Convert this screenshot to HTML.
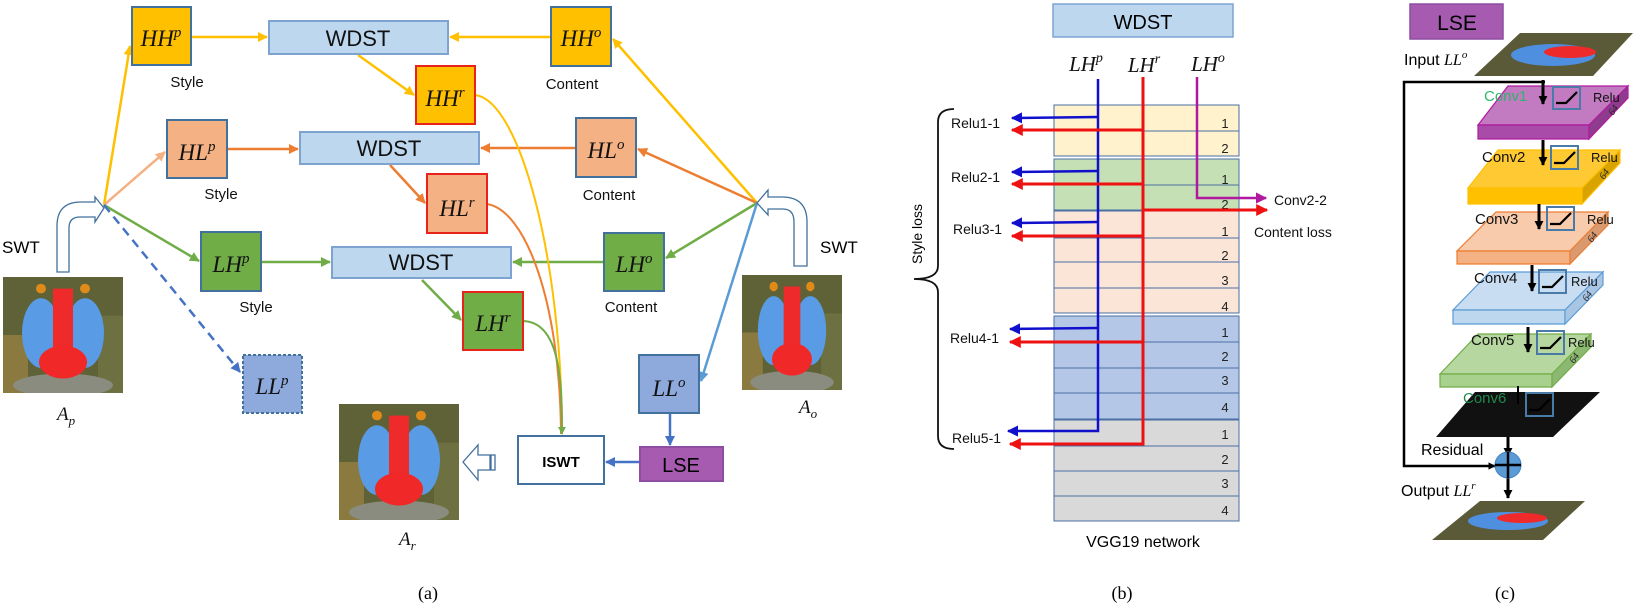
<!DOCTYPE html>
<html><head><meta charset="utf-8"><style>
body{margin:0;background:#fff}
svg{display:block;font-family:"Liberation Sans",sans-serif}
.m,.m tspan{font-family:"Liberation Serif",serif;font-style:italic}
</style></head><body>
<svg width="1638" height="606" viewBox="0 0 1638 606" xmlns="http://www.w3.org/2000/svg">
<defs>
<marker id="aY" viewBox="0 0 10 10" refX="9" refY="5" markerWidth="4" markerHeight="4" orient="auto"><path d="M0,0L10,5L0,10z" fill="#FFC000"/></marker>
<marker id="aO" viewBox="0 0 10 10" refX="9" refY="5" markerWidth="4" markerHeight="4" orient="auto"><path d="M0,0L10,5L0,10z" fill="#ED7D31"/></marker>
<marker id="aLO" viewBox="0 0 10 10" refX="9" refY="5" markerWidth="4" markerHeight="4" orient="auto"><path d="M0,0L10,5L0,10z" fill="#F4B183"/></marker>
<marker id="aG" viewBox="0 0 10 10" refX="9" refY="5" markerWidth="4" markerHeight="4" orient="auto"><path d="M0,0L10,5L0,10z" fill="#70AD47"/></marker>
<marker id="aB" viewBox="0 0 10 10" refX="9" refY="5" markerWidth="4" markerHeight="4" orient="auto"><path d="M0,0L10,5L0,10z" fill="#5B9BD5"/></marker>
<marker id="aDB" viewBox="0 0 10 10" refX="9" refY="5" markerWidth="4" markerHeight="4" orient="auto"><path d="M0,0L10,5L0,10z" fill="#4472C4"/></marker>
<marker id="aBl" viewBox="0 0 10 10" refX="9" refY="5" markerWidth="4.5" markerHeight="4.5" orient="auto"><path d="M0,0L10,5L0,10z" fill="#1010CC"/></marker>
<marker id="aR" viewBox="0 0 10 10" refX="9" refY="5" markerWidth="4" markerHeight="4" orient="auto"><path d="M0,0L10,5L0,10z" fill="#EE1111"/></marker>
<marker id="aM" viewBox="0 0 10 10" refX="9" refY="5" markerWidth="4.5" markerHeight="4.5" orient="auto"><path d="M0,0L10,5L0,10z" fill="#B0199F"/></marker>
<marker id="aK" viewBox="0 0 10 10" refX="9" refY="5" markerWidth="3" markerHeight="3" orient="auto"><path d="M0,0L10,5L0,10z" fill="#000"/></marker>
<symbol id="bab" viewBox="0 0 120 120" preserveAspectRatio="none">
<rect width="120" height="120" fill="#5f6236"/>
<rect x="0" y="60" width="25" height="60" fill="#8a7a40"/>
<rect x="95" y="40" width="25" height="80" fill="#6d7040"/>
<ellipse cx="60" cy="112" rx="50" ry="12" fill="#8a8c80"/>
<ellipse cx="38" cy="58" rx="19" ry="36" fill="#5a9be6"/>
<ellipse cx="82" cy="58" rx="19" ry="36" fill="#5a9be6"/>
<rect x="50" y="12" width="20" height="70" fill="#ee2a2a"/>
<ellipse cx="60" cy="88" rx="24" ry="17" fill="#f02828"/>
<circle cx="38" cy="12" r="5" fill="#e08a1a"/><circle cx="82" cy="12" r="5" fill="#e08a1a"/>
</symbol>
</defs>

<!-- ===== Panel (a) ===== -->
<line x1="104" y1="205" x2="130" y2="46" stroke="#FFC000" stroke-width="2.5" marker-end="url(#aY)"/>
<line x1="104" y1="205" x2="165" y2="152" stroke="#F4B183" stroke-width="2.5" marker-end="url(#aLO)"/>
<line x1="104" y1="205" x2="199" y2="261" stroke="#70AD47" stroke-width="2.5" marker-end="url(#aG)"/>
<line x1="104" y1="205" x2="240" y2="372" stroke="#4472C4" stroke-width="2.5" stroke-dasharray="9,6" marker-end="url(#aDB)"/>
<line x1="757" y1="203" x2="613" y2="39" stroke="#FFC000" stroke-width="2.5" marker-end="url(#aY)"/>
<line x1="757" y1="203" x2="638" y2="149" stroke="#ED7D31" stroke-width="2.5" marker-end="url(#aO)"/>
<line x1="757" y1="203" x2="666" y2="258" stroke="#70AD47" stroke-width="2.5" marker-end="url(#aG)"/>
<line x1="757" y1="203" x2="701" y2="381" stroke="#5B9BD5" stroke-width="2.5" marker-end="url(#aB)"/>
<line x1="191" y1="37" x2="267" y2="37" stroke="#FFC000" stroke-width="2.5" marker-end="url(#aY)"/>
<line x1="551" y1="37" x2="450" y2="37" stroke="#FFC000" stroke-width="2.5" marker-end="url(#aY)"/>
<line x1="227" y1="149" x2="298" y2="149" stroke="#ED7D31" stroke-width="2.5" marker-end="url(#aO)"/>
<line x1="576" y1="148" x2="481" y2="148" stroke="#ED7D31" stroke-width="2.5" marker-end="url(#aO)"/>
<line x1="261" y1="262" x2="330" y2="262" stroke="#70AD47" stroke-width="2.5" marker-end="url(#aG)"/>
<line x1="604" y1="262" x2="513" y2="262" stroke="#70AD47" stroke-width="2.5" marker-end="url(#aG)"/>
<line x1="358" y1="55" x2="414" y2="95" stroke="#FFC000" stroke-width="2.5" marker-end="url(#aY)"/>
<line x1="390" y1="165" x2="425" y2="203" stroke="#ED7D31" stroke-width="2.5" marker-end="url(#aO)"/>
<line x1="422" y1="280" x2="461" y2="320" stroke="#70AD47" stroke-width="2.5" marker-end="url(#aG)"/>
<path d="M475,95 C520,100 562,260 562,434" fill="none" stroke="#FFC000" stroke-width="2"/>
<path d="M487,204 C525,210 560,300 561,434" fill="none" stroke="#ED7D31" stroke-width="2"/>
<path d="M523,321 C560,322 562,380 562,434" fill="none" stroke="#70AD47" stroke-width="2" marker-end="url(#aG)"/>
<line x1="670" y1="413" x2="670" y2="445" stroke="#4472C4" stroke-width="2.5" marker-end="url(#aDB)"/>
<line x1="640" y1="462" x2="606" y2="462" stroke="#4472C4" stroke-width="2.5" marker-end="url(#aDB)"/>

<g stroke="#41719C" stroke-width="2">
<rect x="269" y="21" width="179" height="33" fill="#BDD7EE" stroke="#7FA3D0"/>
<rect x="300" y="132" width="179" height="32" fill="#BDD7EE" stroke="#7FA3D0"/>
<rect x="332" y="247" width="179" height="31" fill="#BDD7EE" stroke="#7FA3D0"/>
<rect x="132" y="7" width="59" height="58" fill="#FFC000"/>
<rect x="551" y="7" width="60" height="59" fill="#FFC000"/>
<rect x="167" y="120" width="60" height="58" fill="#F4B183"/>
<rect x="576" y="118" width="60" height="59" fill="#F4B183"/>
<rect x="201" y="232" width="60" height="59" fill="#70AD47"/>
<rect x="604" y="233" width="60" height="58" fill="#70AD47"/>
<rect x="416" y="66" width="59" height="58" fill="#FFC000" stroke="#E8231C"/>
<rect x="427" y="174" width="60" height="59" fill="#F4B183" stroke="#E8231C"/>
<rect x="463" y="292" width="60" height="58" fill="#70AD47" stroke="#E8231C"/>
<rect x="243" y="355" width="59" height="58" fill="#8EA9DB" stroke-dasharray="3,2"/>
<rect x="639" y="355" width="60" height="58" fill="#8EA9DB"/>
<rect x="518" y="436" width="86" height="48" fill="#fff" stroke="#41719C"/>
<rect x="640" y="447" width="83" height="34" fill="#A65BB0" stroke="#8E4DA0"/>
</g>
<g font-size="22" text-anchor="middle" fill="#111">
<text x="358" y="46">WDST</text>
<text x="389" y="156">WDST</text>
<text x="421" y="270">WDST</text>
</g>
<text x="561" y="467" font-size="15" font-weight="bold" text-anchor="middle">ISWT</text>
<text x="681" y="472" font-size="20" text-anchor="middle">LSE</text>
<g class="m" font-size="23" text-anchor="middle" fill="#111">
<text x="161" y="46">HH<tspan font-size="15" dy="-9">p</tspan></text>
<text x="581" y="46">HH<tspan font-size="15" dy="-9">o</tspan></text>
<text x="197" y="160">HL<tspan font-size="15" dy="-9">p</tspan></text>
<text x="606" y="158">HL<tspan font-size="15" dy="-9">o</tspan></text>
<text x="231" y="272">LH<tspan font-size="15" dy="-9">p</tspan></text>
<text x="634" y="272">LH<tspan font-size="15" dy="-9">o</tspan></text>
<text x="445" y="106">HH<tspan font-size="15" dy="-9">r</tspan></text>
<text x="457" y="216">HL<tspan font-size="15" dy="-9">r</tspan></text>
<text x="493" y="331">LH<tspan font-size="15" dy="-9">r</tspan></text>
<text x="272" y="394">LL<tspan font-size="15" dy="-9">p</tspan></text>
<text x="669" y="396">LL<tspan font-size="15" dy="-9">o</tspan></text>
</g>
<g font-size="15" text-anchor="middle" fill="#111">
<text x="187" y="87">Style</text><text x="572" y="89">Content</text>
<text x="221" y="199">Style</text><text x="609" y="200">Content</text>
<text x="256" y="312">Style</text><text x="631" y="312">Content</text>
</g>
<text x="2" y="253" font-size="17">SWT</text>
<text x="820" y="253" font-size="17">SWT</text>
<path d="M57,272 L57,226 Q57,202 81,202 L95,202 L95,197 L104,208 L95,222 L95,217 L80,217 Q69,217 69,228 L69,272 Z" fill="#fff" stroke="#41719C" stroke-width="1.3"/>
<path d="M807,266 L807,222 Q807,197 782,197 L768,197 L768,190 L757,203 L768,215 L768,209 L783,209 Q794,209 794,222 L794,266 Z" fill="#fff" stroke="#41719C" stroke-width="1.3"/>
<path d="M490,455 L478,455 L478,445 L463,462 L478,480 L478,470 L490,470 Z" fill="#fff" stroke="#41719C" stroke-width="1.3"/>
<rect x="491" y="455" width="4" height="15" fill="#fff" stroke="#41719C" stroke-width="1.3"/>
<use href="#bab" x="3" y="277" width="120" height="116"/>
<use href="#bab" x="742" y="275" width="100" height="115"/>
<use href="#bab" x="339" y="404" width="120" height="116"/>
<g class="m" font-size="19" fill="#111">
<text x="57" y="420">A<tspan font-size="13" dy="5">p</tspan></text>
<text x="799" y="413">A<tspan font-size="13" dy="5">o</tspan></text>
<text x="399" y="545">A<tspan font-size="13" dy="5">r</tspan></text>
</g>

<!-- ===== Panel (b) ===== -->
<rect x="1053" y="4" width="180" height="33" fill="#BDD7EE" stroke="#7FA3D0" stroke-width="1.5"/>
<text x="1143" y="29" font-size="20" text-anchor="middle">WDST</text>
<g class="m" font-size="21" fill="#111" text-anchor="middle">
<text x="1086" y="71">LH<tspan font-size="14" dy="-9">p</tspan></text>
<text x="1144" y="72">LH<tspan font-size="14" dy="-9">r</tspan></text>
<text x="1208" y="71">LH<tspan font-size="14" dy="-9">o</tspan></text>
</g>
<g stroke="#4A6FA5" stroke-width="1">
<rect x="1054" y="105" width="185" height="26" fill="#FFF2CC"/><rect x="1054" y="131" width="185" height="25" fill="#FFF2CC"/>
<rect x="1054" y="159" width="185" height="26" fill="#C5E0B4"/><rect x="1054" y="185" width="185" height="25" fill="#C5E0B4"/>
<rect x="1054" y="211" width="185" height="27" fill="#FBE5D6"/><rect x="1054" y="238" width="185" height="24" fill="#FBE5D6"/><rect x="1054" y="262" width="185" height="26" fill="#FBE5D6"/><rect x="1054" y="288" width="185" height="25" fill="#FBE5D6"/>
<rect x="1054" y="316" width="185" height="26" fill="#B4C7E7"/><rect x="1054" y="342" width="185" height="26" fill="#B4C7E7"/><rect x="1054" y="368" width="185" height="25" fill="#B4C7E7"/><rect x="1054" y="393" width="185" height="26" fill="#B4C7E7"/>
<rect x="1054" y="420" width="185" height="26" fill="#D9D9D9"/><rect x="1054" y="446" width="185" height="25" fill="#D9D9D9"/><rect x="1054" y="471" width="185" height="25" fill="#D9D9D9"/><rect x="1054" y="496" width="185" height="25" fill="#D9D9D9"/>
</g>
<g font-size="13" fill="#222" text-anchor="middle">
<text x="1225" y="128">1</text><text x="1225" y="153">2</text>
<text x="1225" y="184">1</text><text x="1225" y="209">2</text>
<text x="1225" y="236">1</text><text x="1225" y="260">2</text><text x="1225" y="285">3</text><text x="1225" y="311">4</text>
<text x="1225" y="337">1</text><text x="1225" y="361">2</text><text x="1225" y="385">3</text><text x="1225" y="412">4</text>
<text x="1225" y="439">1</text><text x="1225" y="464">2</text><text x="1225" y="488">3</text><text x="1225" y="515">4</text>
</g>
<g stroke="#1010CC" stroke-width="2.5" fill="none">
<path d="M1098,79 L1098,431 L1008,431" marker-end="url(#aBl)"/>
<line x1="1098" y1="117" x2="1012" y2="118" marker-end="url(#aBl)"/>
<line x1="1098" y1="171" x2="1012" y2="172" marker-end="url(#aBl)"/>
<line x1="1098" y1="222" x2="1012" y2="223" marker-end="url(#aBl)"/>
<line x1="1098" y1="328" x2="1010" y2="329" marker-end="url(#aBl)"/>
</g>
<g stroke="#EE1111" stroke-width="3" fill="none">
<path d="M1143,77 L1143,444 L1010,444" marker-end="url(#aR)"/>
<line x1="1143" y1="130" x2="1012" y2="130" marker-end="url(#aR)"/>
<line x1="1143" y1="184" x2="1012" y2="184" marker-end="url(#aR)"/>
<line x1="1143" y1="236" x2="1012" y2="236" marker-end="url(#aR)"/>
<line x1="1143" y1="342" x2="1010" y2="342" marker-end="url(#aR)"/>
<line x1="1143" y1="210" x2="1267" y2="210" marker-end="url(#aR)"/>
</g>
<path d="M1197,77 L1197,198 L1266,198" fill="none" stroke="#B0199F" stroke-width="2.5" marker-end="url(#aM)"/>
<g font-size="14" fill="#111">
<text x="951" y="128">Relu1-1</text><text x="951" y="182">Relu2-1</text><text x="953" y="234">Relu3-1</text>
<text x="950" y="343">Relu4-1</text><text x="952" y="443">Relu5-1</text>
<text x="1274" y="205">Conv2-2</text><text x="1254" y="237">Content loss</text>
</g>
<path d="M954,109 Q938,109 938,122 L938,266 Q938,279 914,279 Q938,279 938,292 L938,436 Q938,449 954,449" fill="none" stroke="#111" stroke-width="1.8"/>
<text transform="translate(922,234) rotate(-90)" font-size="14" text-anchor="middle">Style loss</text>
<text x="1143" y="547" font-size="16" text-anchor="middle">VGG19 network</text>

<!-- ===== Panel (c) ===== -->
<rect x="1410" y="4" width="93" height="35" fill="#A65BB0" stroke="#8E4DA0" stroke-width="1.5"/>
<text x="1457" y="30" font-size="21" text-anchor="middle">LSE</text>
<text x="1404" y="65" font-size="16">Input <tspan class="m">LL</tspan><tspan class="m" font-size="11" dy="-7">o</tspan></text>
<polygon points="1520,33 1633,33 1593,76 1474,76" fill="#5a5a38"/>
<ellipse cx="1553" cy="55" rx="42" ry="11" fill="#4f8fe0"/>
<ellipse cx="1570" cy="52" rx="26" ry="6" fill="#ee2a2a"/>
<path d="M1545,82 L1404,82 L1404,466 L1495,466" fill="none" stroke="#000" stroke-width="2.5" marker-end="url(#aK)"/>
<g stroke-width="1.2">
<polygon points="1508,86 1628,86 1589,125 1478,125" fill="#C27BC0" stroke="#B0199F"/>
<polygon points="1478,125 1589,125 1589,139 1478,139" fill="#A94BA8" stroke="#B0199F"/>
<polygon points="1589,125 1628,86 1628,98 1589,139" fill="#8F3C8E" stroke="#B0199F"/>
<polygon points="1498,150 1620,150 1582,188 1468,188" fill="#FFC933" stroke="#FFC000"/>
<polygon points="1468,188 1582,188 1582,204 1468,204" fill="#FFC000" stroke="#FFC000"/>
<polygon points="1582,188 1620,150 1620,163 1582,204" fill="#D9A300" stroke="#FFC000"/>
<polygon points="1496,212 1608,212 1570,251 1457,251" fill="#F8CBAD" stroke="#ED7D31"/>
<polygon points="1457,251 1570,251 1570,264 1457,264" fill="#F4B183" stroke="#ED7D31"/>
<polygon points="1570,251 1608,212 1608,225 1570,264" fill="#D99A70" stroke="#ED7D31"/>
<polygon points="1490,272 1603,272 1565,310 1453,310" fill="#C9DDF2" stroke="#5B9BD5"/>
<polygon points="1453,310 1565,310 1565,324 1453,324" fill="#BDD7EE" stroke="#5B9BD5"/>
<polygon points="1565,310 1603,272 1603,285 1565,324" fill="#A8C6E4" stroke="#5B9BD5"/>
<polygon points="1478,334 1591,334 1552,374 1440,374" fill="#B6D7A0" stroke="#70AD47"/>
<polygon points="1440,374 1552,374 1552,387 1440,387" fill="#A9D18E" stroke="#70AD47"/>
<polygon points="1552,374 1591,334 1591,347 1552,387" fill="#8DB872" stroke="#70AD47"/>
</g>
<polygon points="1475,392 1600,392 1553,437 1436,437" fill="#111"/>
<g fill="none" stroke="#4A7BA8" stroke-width="2">
<rect x="1553" y="87" width="27" height="22"/><rect x="1551" y="146" width="27" height="23"/>
<rect x="1547" y="207" width="27" height="23"/><rect x="1539" y="270" width="27" height="23"/>
<rect x="1537" y="331" width="27" height="23"/><rect x="1526" y="393" width="27" height="23"/>
</g>
<g fill="none" stroke="#000" stroke-width="2.2">
<path d="M1556,103 L1566,103 L1577,92"/><path d="M1554,163 L1564,163 L1575,152"/>
<path d="M1550,224 L1560,224 L1571,213"/><path d="M1542,287 L1552,287 L1563,276"/>
<path d="M1540,348 L1550,348 L1561,337"/><path d="M1529,410 L1539,410 L1550,399"/>
</g>
<g stroke="#000" stroke-width="3">
<line x1="1543" y1="80" x2="1543" y2="104" marker-end="url(#aK)"/>
<line x1="1543" y1="140" x2="1543" y2="165" marker-end="url(#aK)"/>
<line x1="1539" y1="204" x2="1539" y2="229" marker-end="url(#aK)"/>
<line x1="1532" y1="265" x2="1532" y2="291" marker-end="url(#aK)"/>
<line x1="1528" y1="327" x2="1528" y2="352" marker-end="url(#aK)"/>
<line x1="1518" y1="386" x2="1518" y2="404" stroke-width="2"/>
<line x1="1508" y1="437" x2="1508" y2="456" marker-end="url(#aK)"/>
<line x1="1508" y1="474" x2="1508" y2="498" marker-end="url(#aK)"/>
</g>
<circle cx="1508" cy="465" r="13" fill="#5B9BD5" stroke="#3F7FC0"/>
<line x1="1495" y1="465" x2="1521" y2="465" stroke="#000" stroke-width="2.5"/>
<line x1="1508" y1="452" x2="1508" y2="478" stroke="#000" stroke-width="2.5"/>
<g font-size="15">
<text x="1484" y="101" fill="#2DB56A">Conv1</text>
<text x="1482" y="162" fill="#111">Conv2</text>
<text x="1475" y="224" fill="#111">Conv3</text>
<text x="1474" y="283" fill="#111">Conv4</text>
<text x="1471" y="345" fill="#111">Conv5</text>
<text x="1463" y="403" fill="#1E8A4A">Conv6</text>
</g>
<g font-size="13" fill="#111">
<text x="1593" y="102">Relu</text><text x="1591" y="162">Relu</text><text x="1587" y="224">Relu</text>
<text x="1571" y="286">Relu</text><text x="1568" y="347">Relu</text>
</g>
<g font-size="10" class="m" fill="#222">
<text transform="translate(1613,116) rotate(-55)">64</text>
<text transform="translate(1604,180) rotate(-55)">64</text>
<text transform="translate(1592,243) rotate(-55)">64</text>
<text transform="translate(1587,302) rotate(-55)">64</text>
<text transform="translate(1574,364) rotate(-55)">64</text>
</g>
<text x="1421" y="455" font-size="16">Residual</text>
<text x="1401" y="496" font-size="16">Output <tspan class="m">LL</tspan><tspan class="m" font-size="11" dy="-7">r</tspan></text>
<polygon points="1480,501 1585,501 1543,540 1432,540" fill="#5a5a38"/>
<ellipse cx="1508" cy="521" rx="40" ry="9" fill="#4f8fe0"/>
<ellipse cx="1522" cy="518" rx="25" ry="5" fill="#ee2a2a"/>

<g font-size="18" text-anchor="middle">
<text x="428" y="599" style="font-family:'Liberation Serif',serif">(a)</text>
<text x="1122" y="599" style="font-family:'Liberation Serif',serif">(b)</text>
<text x="1505" y="599" style="font-family:'Liberation Serif',serif">(c)</text>
</g>
</svg>
</body></html>
